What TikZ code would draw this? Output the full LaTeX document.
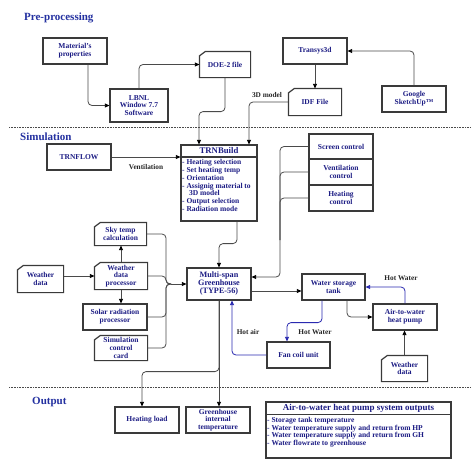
\documentclass[tikz,border=0pt]{standalone}
\usepackage{fontspec}
\setmainfont{Liberation Serif}
\usetikzlibrary{arrows.meta}
\definecolor{txt}{HTML}{1C1C84}
\definecolor{hdr}{HTML}{2330A0}
\definecolor{bord}{HTML}{3A3A3A}
\definecolor{ln}{HTML}{4A4A4A}
\definecolor{bl}{HTML}{2A2AB0}
\newcommand\mkbox[7]{\node[#2, minimum width={#5-#3}, minimum height={#6-#4}] (#1) at ({(#3+#5)/2},{(#4+#6)/2}) {#7};}
\begin{document}
\begin{tikzpicture}[x=1pt,y=-1pt,
  box/.style={draw=bord, line width=1.2pt, rectangle, inner sep=0.5pt, align=center, text=txt, font=\fontsize{7.5}{7.7}\selectfont\bfseries},
  card/.style={box, draw=none, append after command={\pgfextra{\draw[sep, line join=miter] ([xshift=6pt]\tikzlastnode.north west) -- (\tikzlastnode.north east) -- (\tikzlastnode.south east) -- (\tikzlastnode.south west) -- ([yshift=-4.5pt]\tikzlastnode.north west) -- cycle;}}},
  bigbox/.style={box, font=\fontsize{8.2}{8}\selectfont\bfseries},
  items/.style={inner sep=1pt, align=left, text=txt, font=\fontsize{7.5}{7.7}\selectfont\bfseries},
  ttl/.style={inner sep=0pt, text=txt, font=\fontsize{8.7}{9}\selectfont\bfseries},
  hdr/.style={inner sep=0pt, anchor=west, text=hdr, font=\fontsize{11}{12}\selectfont\bfseries},
  lbl/.style={inner sep=0.5pt, text=black!85, font=\fontsize{7.3}{8}\selectfont\bfseries},
  sep/.style={draw=bord, line width=1.2pt},
  dots/.style={draw=ln, line width=0.8pt, dash pattern=on 0.8pt off 0.8pt},
  conn/.style={draw=ln, line width=0.8pt, rounded corners=4pt, -{Triangle[length=4.5pt,width=4pt,color=black]}},
  plain/.style={draw=ln, line width=0.8pt, rounded corners=4pt},
  bconn/.style={draw=bl, line width=0.8pt, rounded corners=4pt, -{Triangle[length=4.5pt,width=4pt,color=bl]}}
]
\useasboundingbox (0,0) rectangle (474,474);
\fill[white] (0,0) rectangle (474,474);

% section headers and separators
\node[hdr] (hpre) at (24,18) {Pre-processing};
\node[hdr] (hsim) at (20,137) {Simulation};
\node[hdr] (hout) at (32,402) {Output};
\draw[dots] (9,127) -- (471,127);
\draw[dots] (9,387) -- (471,387);

% pre-processing
\mkbox{mat}{box}{43}{38}{107}{64}{Material's\\properties}
\mkbox{lbnl}{box}{110}{89}{168}{122}{LBNL\\Window 7.7\\Software}
\mkbox{doe}{card}{200}{52}{250}{77}{DOE-2 file}
\mkbox{trans}{box}{283}{38}{347}{64}{Transys3d}
\mkbox{idf}{card}{289}{89}{341}{115}{IDF File}
\mkbox{google}{box}{382}{86}{446}{112}{Google\\SketchUp™}

% simulation
\mkbox{trnflow}{box}{47}{144}{111}{170}{TRNFLOW}
\mkbox{trn}{box}{181}{145}{257}{221}{}
\node[ttl] (trnt) at (219,151) {TRNBuild};
\draw[sep] (181,157) -- (257,157);
\node[items, anchor=north west] (trnl) at (181,158.5) {- Heating selection\\- Set heating temp\\- Orientation\\- Assignig material to\\\hspace*{7pt}3D model\\- Output selection\\- Radiation mode};

\mkbox{scr}{box}{309}{134}{373}{159}{Screen control}
\mkbox{vent}{box}{309}{159}{373}{185}{Ventilation\\control}
\mkbox{heatc}{box}{309}{185}{373}{211}{Heating\\control}

\mkbox{multi}{bigbox}{187}{268}{251}{300}{Multi-span\\Greenhouse\\(TYPE-56)}
\mkbox{sky}{card}{95}{223}{146}{245}{Sky temp\\calculation}
\mkbox{wdp}{card}{95}{263}{147}{289}{Weather\\data\\processor}
\mkbox{wdin}{card}{18}{266}{63}{292}{Weather\\data}
\mkbox{solar}{box}{83}{304}{147}{330}{Solar radiation\\processor}
\mkbox{simc}{card}{95}{336}{147}{360}{Simulation\\control\\card}

\mkbox{wst}{box}{302}{274}{365}{300}{Water storage\\tank}
\mkbox{hp}{box}{373}{304}{437}{330}{Air-to-water\\heat pump}
\mkbox{fan}{box}{267}{342}{330}{368}{Fan coil unit}
\mkbox{wdr}{card}{382}{356}{427}{381}{Weather\\data}

% output
\mkbox{hload}{box}{115}{407}{179}{433}{Heating load}
\mkbox{ghit}{box}{186}{407}{250}{433}{Greenhouse\\internal\\temperature}
\mkbox{aout}{box}{266}{402}{451}{458}{}
\node[ttl, font=\fontsize{9}{10}\selectfont\bfseries] (aoutt) at (358.5,408.5) {Air-to-water heat pump system outputs};
\draw[sep] (266,414.5) -- (451,414.5);
\node[items, anchor=north west] (aoutl) at (266,416) {- Storage tank temperature\\- Water temperature supply and return from HP\\- Water temperature supply and return from GH\\- Water flowrate to greenhouse};

% labels
\node[lbl] (l3d) at (267,95) {3D model};
\node[lbl] (lvent) at (146,167) {Ventilation};
\node[lbl] (lhw1) at (401,278) {Hot Water};
\node[lbl] (lhw2) at (315,332) {Hot Water};
\node[lbl] (lha) at (248,332) {Hot air};

% connectors: pre-processing
\draw[conn] ([xshift=13pt]mat.south) |- (lbnl.west);
\draw[conn] (lbnl.north) |- (doe.west);
\draw[conn] (doe.south) -- ++(0,34) -| ([xshift=-20pt]trn.north);
\draw[conn] (idf.west) -| ([xshift=30pt]trn.north);
\draw[conn] (trans.south) -- (idf.north);
\draw[conn] (google.north) |- (trans.east);

% connectors: simulation
\draw[conn] (trnflow.east) -- (trnflow.east -| trn.west);
\draw[conn] (scr.west) -| (280,277) -- ([yshift=7pt]multi.east);
\draw[plain] (vent.west) -| (280,240);
\draw[plain] (heatc.west) -| (280,240);
\draw[conn] ([xshift=18pt]trn.south) -- ++(0,22) -| (multi.north);

\draw[conn] (wdp.west -| wdin.east) -- (wdp.west);
\draw[conn] (wdp.north) -- (wdp.north |- sky.south);
\draw[conn] (wdp.south) -- (wdp.south |- solar.north);
\coordinate (merge) at (171,284);
\draw[plain] (sky.east) -| (166,284) -- (merge);
\draw[plain] (wdp.east) -| (166,284) -- (merge);
\draw[plain] (solar.east) -| (166,284) -- (merge);
\draw[plain] (simc.east) -| (166,284) -- (merge);
\draw[conn] (merge) -- (multi.west);

\draw[conn] ([yshift=-7pt]multi.east) -- ([yshift=-7pt]multi.east -| wst.west);
\draw[conn] ([xshift=13.5pt]wst.south) |- (hp.west);
\draw[bconn] (hp.north) |- (wst.east);
\draw[bconn] ([xshift=-11.5pt]wst.south) -- ++(0,22) -| ([xshift=-11.5pt]fan.north);
\draw[bconn] (fan.west) -| ([xshift=13pt]multi.south);
\draw[conn] (wdr.north) -- (wdr.north |- hp.south);

% connectors: output
\draw[conn] (multi.south) -- (multi.south |- ghit.north);
\draw[conn] (multi.south) -- ++(0,71) -| ([xshift=-5pt]hload.north);
\end{tikzpicture}
\end{document}
